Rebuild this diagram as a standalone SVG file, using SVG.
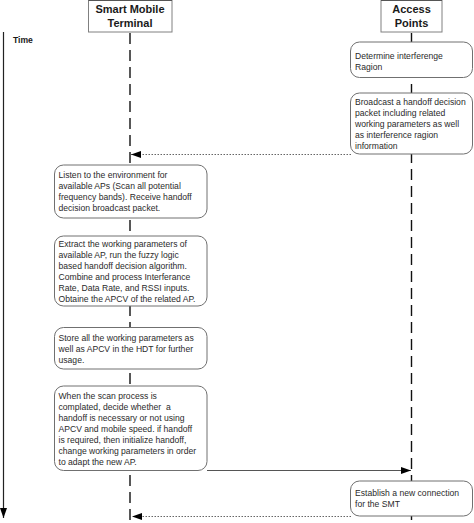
<svg xmlns="http://www.w3.org/2000/svg" width="474" height="523" viewBox="0 0 474 523">
<style>
.hdr{fill:#fff;stroke:#808080;stroke-width:1}
.hdrt{font-family:"Liberation Sans",Arial,sans-serif;font-size:11px;font-weight:bold;fill:#1a1a1a;text-anchor:middle}
.box{fill:#fff;stroke:#707070;stroke-width:1}
.bt{font-family:"Liberation Sans",Arial,sans-serif;font-size:8.6px;fill:#2a2a2a}
.life{stroke:#111;stroke-width:1.4;stroke-dasharray:11 6;fill:none}
.dot{stroke:#666;stroke-width:1;stroke-dasharray:1.5 1.5;fill:none}
.sol{stroke:#555;stroke-width:1;fill:none}
</style>
<defs>
<marker id="ah" markerUnits="userSpaceOnUse" markerWidth="12" markerHeight="8" refX="10" refY="3.5" orient="auto">
<path d="M0,0 L10,3.5 L0,7 Z" fill="#000"/>
</marker>
<marker id="ahT" markerUnits="userSpaceOnUse" markerWidth="8" markerHeight="12" refX="3.5" refY="10" orient="0">
<path d="M0,0 L7,0 L3.5,10 Z" fill="#000"/>
</marker>
</defs>
<g id="time-axis">
<line x1="3.5" y1="32" x2="3.5" y2="518" stroke="#222" stroke-width="1.2" marker-end="url(#ahT)"/>
<text x="13" y="43" font-family="Liberation Sans,Arial,sans-serif" font-size="8.6px" font-weight="bold" fill="#1a1a1a">Time</text>
</g>
<g id="lifelines">
<line class="life" x1="130" y1="33" x2="130" y2="523"/>
<line class="life" x1="411.5" y1="33" x2="411.5" y2="523"/>
</g>
<g id="smt-header">
<rect class="hdr" x="88.5" y="0" width="83.5" height="32"/>
<line x1="88.5" y1="0.5" x2="172" y2="0.5" stroke="#555"/>
<text class="hdrt" x="130" y="13">Smart Mobile</text>
<text class="hdrt" x="130" y="27">Terminal</text>
</g>
<g id="ap-header">
<rect class="hdr" x="381" y="0" width="61" height="32"/>
<line x1="381" y1="0.5" x2="442" y2="0.5" stroke="#555"/>
<text class="hdrt" x="411.5" y="13">Access</text>
<text class="hdrt" x="411.5" y="27">Points</text>
</g>
<g id="connectors">
<line class="dot" x1="351" y1="154.5" x2="131" y2="154.5" marker-end="url(#ah)"/>
<line class="sol" x1="207" y1="470.5" x2="411" y2="470.5" marker-end="url(#ah)"/>
<line class="dot" x1="351" y1="516.5" x2="132" y2="516.5" marker-end="url(#ah)"/>
</g>
<g id="ap-determine">
<rect class="box" x="350.5" y="42" width="122" height="35.5" rx="9"/>
<text class="bt" x="355" y="59">Determine interferenge</text>
<text class="bt" x="355" y="70">Ragion</text>
</g>
<g id="ap-broadcast">
<rect class="box" x="350.5" y="93" width="122" height="61" rx="9"/>
<text class="bt" x="355" y="104.5">Broadcast a handoff decision</text>
<text class="bt" x="355" y="115.5">packet including related</text>
<text class="bt" x="355" y="126.5">working parameters as well</text>
<text class="bt" x="355" y="137.5">as interference ragion</text>
<text class="bt" x="355" y="148.5">information</text>
</g>
<g id="smt-listen">
<rect class="box" x="54.5" y="165" width="152.5" height="53" rx="9"/>
<text class="bt" x="58.5" y="178">Listen to the environment for</text>
<text class="bt" x="58.5" y="189">available APs (Scan all potential</text>
<text class="bt" x="58.5" y="200">frequency bands). Receive handoff</text>
<text class="bt" x="58.5" y="211">decision broadcast packet.</text>
</g>
<g id="smt-extract">
<rect class="box" x="54.5" y="236" width="152.5" height="70" rx="9"/>
<text class="bt" x="58.5" y="246.5">Extract the working parameters of</text>
<text class="bt" x="58.5" y="257.5">available AP, run the fuzzy logic</text>
<text class="bt" x="58.5" y="268.5">based handoff decision algorithm.</text>
<text class="bt" x="58.5" y="279.5">Combine and process Interferance</text>
<text class="bt" x="58.5" y="290.5">Rate, Data Rate, and RSSI inputs.</text>
<text class="bt" x="58.5" y="301.5">Obtaine the APCV of the related AP.</text>
</g>
<g id="smt-store">
<rect class="box" x="54.5" y="327.5" width="152.5" height="41.5" rx="9"/>
<text class="bt" x="58.5" y="340.5">Store all the working parameters as</text>
<text class="bt" x="58.5" y="351.5">well as APCV in the HDT for further</text>
<text class="bt" x="58.5" y="362.5">usage.</text>
</g>
<g id="smt-decide">
<rect class="box" x="54.5" y="386" width="152.5" height="84.5" rx="9"/>
<text class="bt" x="58.5" y="399">When the scan process is</text>
<text class="bt" x="58.5" y="410" style="white-space:pre">complated, decide whether  a</text>
<text class="bt" x="58.5" y="421">handoff is necessary or not using</text>
<text class="bt" x="58.5" y="432">APCV and mobile speed. if handoff</text>
<text class="bt" x="58.5" y="443">is required, then initialize handoff,</text>
<text class="bt" x="58.5" y="454">change working parameters in order</text>
<text class="bt" x="58.5" y="465">to adapt the new AP.</text>
</g>
<g id="ap-establish">
<rect class="box" x="350.5" y="481" width="122" height="35" rx="9"/>
<text class="bt" x="355" y="496">Establish a new connection</text>
<text class="bt" x="355" y="507">for the SMT</text>
</g>
</svg>
